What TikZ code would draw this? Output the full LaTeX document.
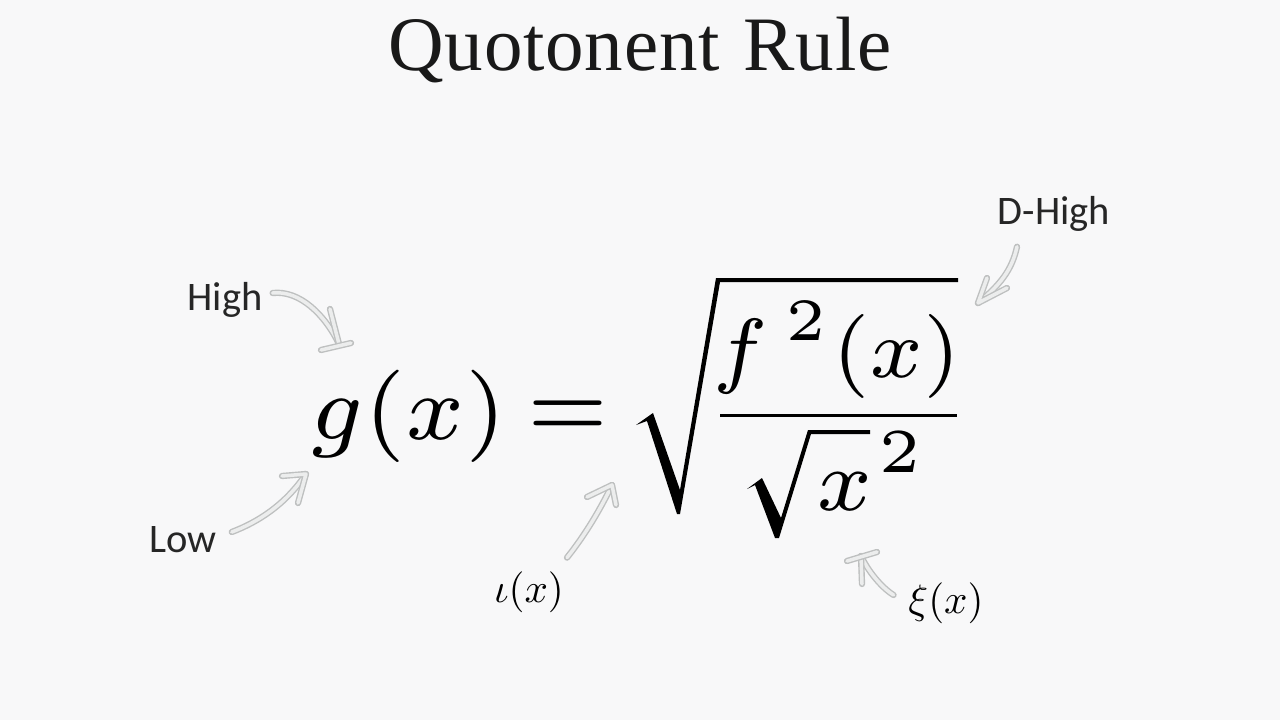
\documentclass[tikz,border=0pt]{standalone}
\usepackage{fix-cm}
\usepackage{fontspec}
\newfontfamily\labelfont{Carlito}
\newfontfamily\titlefont[LetterSpace = 1]{Liberation Serif}
\definecolor{paper}{HTML}{F8F8F9}
\definecolor{arrowedge}{HTML}{BEC0C0}
\definecolor{arrowfill}{HTML}{ECEDED}
\tikzset{
	arrowline/.style = {draw = arrowedge, line width = 1.4pt, double = arrowfill, double distance = 3.5pt, line cap = round, line join = round},
	wordlabel/.style = {inner sep = 6pt, font = \labelfont\fontsize{40.5}{48}\selectfont, text = black!85},
	mathlabel/.style = {inner sep = 0.5pt, scale = 4.1, font = \fontsize{10}{12}\selectfont, text = black},
	bigmath/.style = {inner sep = 0pt, scale = #1, font = \fontsize{7}{8}\selectfont, anchor = base}
}
\begin{document}
\begin{tikzpicture}[x = 1pt, y = -1pt]
	\useasboundingbox [fill = paper] (0, 0) rectangle (1280, 720);
	\node (title) at (640, 70) [inner sep = 0pt, anchor = base, font = \titlefont\fontsize{77}{85}\selectfont, text = black!90] {Quotonent\hspace{4pt} Rule};
	\node (lhs) at (408, 439) [bigmath = 13.2] {\(g(x)\)};
	\node (equals) at (568, 436) [bigmath = 13.2] {\(=\)};
	\node (numer) at (837, 377) [bigmath = 12] {\({f\mkern3mu}^{2}(x)\)};
	\node (denom) at (872, 510) [bigmath = 12.5] {\({x\mkern1mu}^{2}\)};
	\draw [black, line width = 3pt] (720, 415) -- (957, 415);
	\fill [black] (636, 425) -- (653, 413) -- (680, 490) -- (716, 278) -- (958, 278) -- (958, 282) -- (720, 282) -- (680, 514) -- (677, 514) -- (647, 421) -- cycle;
	\fill [black] (747, 489) -- (762, 478) -- (781, 518) -- (808, 430) -- (870, 430) -- (870, 434) -- (811, 434) -- (779, 538) -- (775, 538) -- (755, 485) -- cycle;
	\node (high) at (225, 300) [wordlabel] {High};
	\node (low) at (183, 540) [wordlabel] {Low};
	\node (dhigh) at (1054, 214) [wordlabel] {D-High};
	\node (iota) at (529, 592) [mathlabel] {\(\iota(x)\)};
	\node (xi) at (946, 603) [mathlabel] {\(\xi(x)\)};
	\coordinate (hightip) at (339, 344);
	\coordinate (lowtip) at (306, 474);
	\coordinate (iotatip) at (612, 485);
	\coordinate (xitip) at (861, 556);
	\coordinate (dhightip) at (978, 303);
	\draw [arrowline] ([xshift = 4pt, yshift = 7pt] high.east) .. controls (300, 290) and (325, 315) .. (hightip);
	\draw [arrowline] (330, 309) -- (hightip);
	\draw [arrowline] (321, 350) -- (351, 343);
	\draw [arrowline] ([xshift = 9pt, yshift = 8pt] low.east) .. controls (258, 522) and (285, 505) .. (lowtip);
	\draw [arrowline] (282, 476) -- (lowtip) -- (298, 503);
	\draw [arrowline] ([xshift = 38pt, yshift = 11pt] iota.north) .. controls (585, 535) and (600, 510) .. (iotatip);
	\draw [arrowline] (587, 497) -- (iotatip) -- (616, 505);
	\draw [arrowline] ([xshift = -12pt, yshift = 8pt] xi.west) .. controls (885, 590) and (870, 575) .. (xitip);
	\draw [arrowline] (862, 584) -- (xitip);
	\draw [arrowline] (847, 561) -- (877, 552);
	\draw [arrowline] ([xshift = -37pt, yshift = -9pt] dhigh.south) .. controls (1012, 270) and (1000, 285) .. (dhightip);
	\draw [arrowline] (1007, 288) -- (dhightip) -- (987, 278);
\end{tikzpicture}
\end{document}
